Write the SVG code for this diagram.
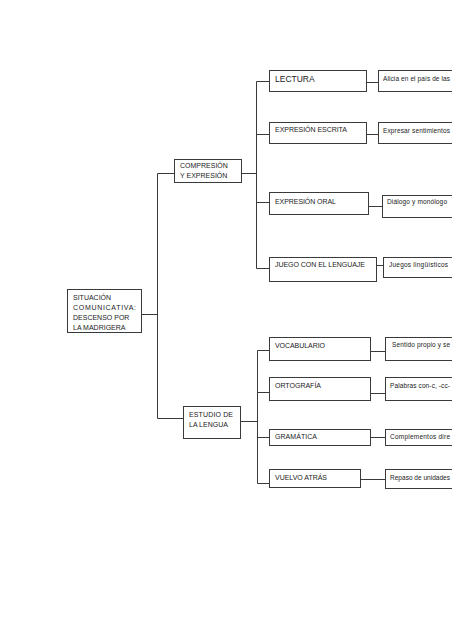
<svg xmlns="http://www.w3.org/2000/svg" width="452" height="640" viewBox="0 0 452 640">
<style>
.b{fill:#fff;stroke:#3a3a3a;stroke-width:1}
.c{fill:none;stroke:#3a3a3a;stroke-width:1}
text{font-family:"Liberation Sans","DejaVu Sans",sans-serif;fill:#222;font-size:7px}
.s{font-size:6.5px}
.l{font-size:8.5px}
</style>
<rect width="452" height="640" fill="#fff"/>
<g id="connectors">
<path class="c" d="M141.5 314.5H157.5M157.5 173.5V418.5M157.5 173.5H174M157.5 418.5H183"/>
<path class="c" d="M242 173.5H256.5M256.5 81.5V268.5M256.5 81.5H270M256.5 134.5H270M256.5 202.5H269M256.5 268.5H269"/>
<path class="c" d="M241 421.5H257.5M257.5 350.5V483.5M257.5 350.5H269M257.5 392.5H269M257.5 437.5H269M257.5 483.5H269"/>
<path class="c" d="M367 82.5H379M367 134.5H379M369 206.5H383M377 265.5H384"/>
<path class="c" d="M371 351.5H386M371 393.5H386M371 437.5H386M361 479.5H386"/>
</g>
<g id="situacion"><rect class="b" x="67.5" y="289.5" width="74" height="43"/>
<text x="73" y="300">SITUACIÓN</text><text x="73" y="310" textLength="63">COMUNICATIVA:</text><text x="73" y="320">DESCENSO POR</text><text x="73" y="330">LA MADRIGERA</text></g>
<g id="compresion"><rect class="b" x="174.5" y="159.5" width="67" height="23"/>
<text x="180" y="168">COMPRESIÓN</text><text x="180" y="178">Y EXPRESIÓN</text></g>
<g id="estudio"><rect class="b" x="183.5" y="406.5" width="57" height="32"/>
<text x="189" y="417" textLength="44">ESTUDIO DE</text><text x="189" y="427">LA  LENGUA</text></g>
<g id="lectura"><rect class="b" x="269.5" y="70.5" width="97" height="21"/><text class="l" x="275" y="82">LECTURA</text></g>
<g id="escrita"><rect class="b" x="269.5" y="122.5" width="97" height="21"/><text x="275" y="132" textLength="72">EXPRESIÓN ESCRITA</text></g>
<g id="oral"><rect class="b" x="269.5" y="192.5" width="99" height="22"/><text x="275" y="204" textLength="61">EXPRESIÓN ORAL</text></g>
<g id="juego"><rect class="b" x="269.5" y="257.5" width="107" height="24"/><text x="275" y="267" textLength="90">JUEGO CON EL LENGUAJE</text></g>
<g id="alicia"><rect class="b" x="378.5" y="70.5" width="80" height="21"/><text class="s" x="383" y="81" textLength="67">Alicia en el país de las</text></g>
<g id="expresar"><rect class="b" x="378.5" y="122.5" width="80" height="21"/><text class="s" x="383" y="133" textLength="67">Expresar sentimientos</text></g>
<g id="dialogo"><rect class="b" x="382.5" y="195.5" width="76" height="22"/><text class="s" x="387" y="204" textLength="60">Diálogo y monólogo</text></g>
<g id="juegos"><rect class="b" x="383.5" y="257.5" width="75" height="20"/><text class="s" x="389" y="267" textLength="59">Juegos lingüísticos</text></g>
<g id="vocabulario"><rect class="b" x="269.5" y="337.5" width="101" height="23"/><text x="275" y="348" textLength="50">VOCABULARIO</text></g>
<g id="ortografia"><rect class="b" x="269.5" y="377.5" width="101" height="23"/><text x="275" y="388" textLength="46">ORTOGRAFÍA</text></g>
<g id="gramatica"><rect class="b" x="269.5" y="429.5" width="101" height="16"/><text x="275" y="439" textLength="42">GRAMÁTICA</text></g>
<g id="vuelvo"><rect class="b" x="269.5" y="469.5" width="91" height="18"/><text x="275" y="480" textLength="52">VUELVO ATRÁS</text></g>
<g id="sentido"><rect class="b" x="385.5" y="337.5" width="73" height="23"/><text class="s" x="392" y="347" textLength="58">Sentido propio y se</text></g>
<g id="palabras"><rect class="b" x="385.5" y="377.5" width="73" height="23"/><text class="s" x="390" y="388" textLength="60">Palabras con-c, -cc-</text></g>
<g id="complementos"><rect class="b" x="385.5" y="429.5" width="73" height="16"/><text class="s" x="390" y="439" textLength="60">Complementos dire</text></g>
<g id="repaso"><rect class="b" x="385.5" y="469.5" width="73" height="19"/><text class="s" x="390" y="480" textLength="60">Repaso de unidades</text></g>
</svg>
